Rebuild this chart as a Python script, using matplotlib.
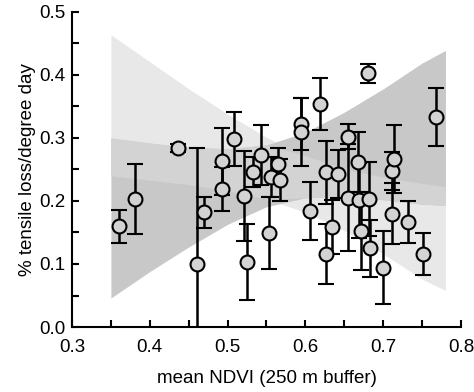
import numpy as np
import matplotlib
matplotlib.use("Agg")
import matplotlib.pyplot as plt

plt.rcParams['font.family'] = ['Liberation Sans', 'DejaVu Sans']

# points: mean NDVI, % tensile loss / degree day, error
ndvi = [0.360, 0.381, 0.436, 0.461, 0.470, 0.493, 0.493, 0.508, 0.521, 0.525,
        0.533, 0.543, 0.553, 0.556, 0.565, 0.567, 0.594, 0.594, 0.606, 0.619,
        0.626, 0.627, 0.634, 0.642, 0.655, 0.655, 0.668, 0.669, 0.672, 0.680,
        0.682, 0.683, 0.700, 0.711, 0.714, 0.711, 0.732, 0.751, 0.768]
loss = [0.160, 0.203, 0.284, 0.100, 0.182, 0.219, 0.263, 0.298, 0.208, 0.103,
        0.246, 0.273, 0.149, 0.238, 0.258, 0.233, 0.322, 0.310, 0.184, 0.354,
        0.246, 0.116, 0.159, 0.243, 0.302, 0.205, 0.262, 0.201, 0.152, 0.403,
        0.203, 0.125, 0.094, 0.248, 0.267, 0.180, 0.167, 0.116, 0.333]
err = [0.026, 0.056, 0.007, 0.184, 0.025, 0.035, 0.053, 0.043, 0.071, 0.060,
       0.024, 0.047, 0.057, 0.032, 0.026, 0.033, 0.041, 0.054, 0.046, 0.041,
       0.050, 0.048, 0.043, 0.038, 0.020, 0.085, 0.047, 0.060, 0.062, 0.015,
       0.059, 0.045, 0.058, 0.030, 0.054, 0.048, 0.033, 0.033, 0.046]

# confidence bands (edges)
band_x = [0.35, 0.40, 0.45, 0.50, 0.55, 0.60, 0.65, 0.70, 0.75, 0.78]
light_hi = [0.464, 0.421, 0.378, 0.338, 0.301, 0.272, 0.251, 0.238, 0.228, 0.223]
light_lo = [0.240, 0.233, 0.226, 0.216, 0.203, 0.182, 0.153, 0.116, 0.076, 0.058]
dark_hi = [0.300, 0.292, 0.285, 0.283, 0.289, 0.309, 0.341, 0.378, 0.419, 0.439]
dark_lo = [0.046, 0.088, 0.127, 0.163, 0.191, 0.205, 0.207, 0.202, 0.195, 0.193]

fig = plt.figure(figsize=(4.74, 3.92), dpi=100)
ax = fig.add_axes([72/474, 65/392, 389/474, 315/392])

ax.fill_between(band_x, light_lo, light_hi, color='#e8e8e8', lw=0)
ax.fill_between(band_x, dark_lo, dark_hi, color='#c8c8c8', lw=0)
# where the two bands overlap
ov_lo = np.maximum(light_lo, dark_lo)
ov_hi = np.minimum(light_hi, dark_hi)
ax.fill_between(band_x, ov_lo, ov_hi, where=ov_hi > ov_lo, interpolate=True,
                color='#d3d3d3', lw=0)

ax.errorbar(ndvi, loss, yerr=err, fmt='o', ms=10, mfc='#d3d3d3', mec='black',
            mew=1.5, ecolor='black', elinewidth=1.8, capsize=6, capthick=1.8,
            zorder=3)

ax.set_xlim(0.3, 0.8)
ax.set_ylim(0, 0.5)
ax.set_xticks([0.3, 0.4, 0.5, 0.6, 0.7, 0.8])
ax.set_yticks([0.0, 0.1, 0.2, 0.3, 0.4, 0.5])
ax.set_xticks(np.arange(0.35, 0.8, 0.1), minor=True)
ax.set_yticks(np.arange(0.05, 0.5, 0.1), minor=True)
ax.xaxis.set_major_formatter(matplotlib.ticker.FormatStrFormatter('%.1f'))
ax.yaxis.set_major_formatter(matplotlib.ticker.FormatStrFormatter('%.1f'))
ax.tick_params(which='both', direction='in', length=5, width=1.5,
               labelsize=13.5)
ax.tick_params(axis='x', which='both', pad=9)
ax.tick_params(axis='y', which='both', pad=5)

for s in ['top', 'right']:
    ax.spines[s].set_visible(False)
for s in ['left', 'bottom']:
    ax.spines[s].set_linewidth(1.5)

ax.set_xlabel('mean NDVI (250 m buffer)', fontsize=13.5, labelpad=10)
ax.set_ylabel('% tensile loss/degree day', fontsize=13.5, labelpad=2)

fig.savefig('out.png', dpi=100)
